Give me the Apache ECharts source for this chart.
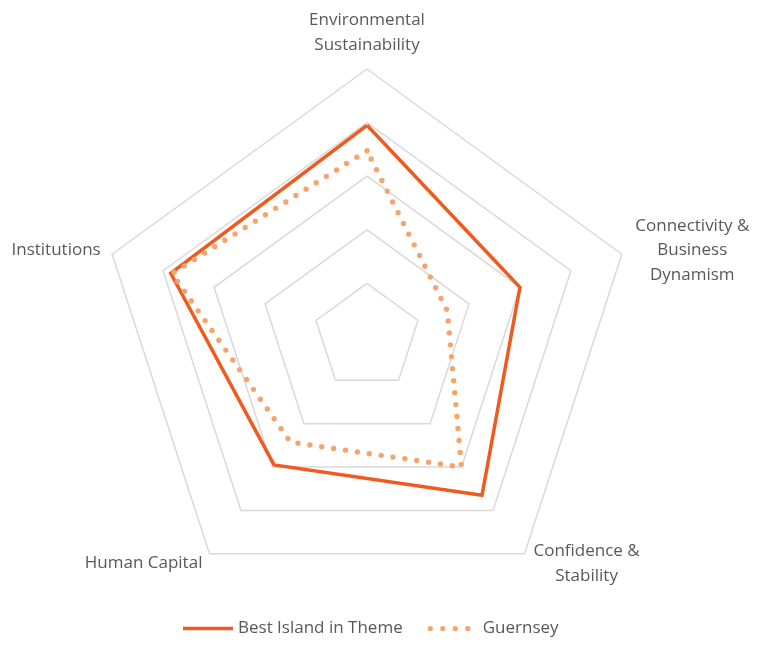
<!DOCTYPE html>
<html>
<head>
<meta charset="utf-8">
<script src="https://cdn.jsdelivr.net/npm/echarts@6/dist/echarts.min.js"></script>
<style>html,body{margin:0;padding:0;background:#fff;}#c{width:762px;height:648px;}</style>
</head>
<body>
<div id="c"></div>
<script>
// Indicators in ECharts (counter-clockwise) order, starting at the top
var indicators = ['Environmental\nSustainability', 'Institutions', 'Human Capital', 'Confidence &\nStability', 'Connectivity &\nBusiness\nDynamism'];
var bestIsland = [79, 77, 59, 73, 60];
var guernsey = [69.5, 76.5, 48.5, 60, 31.5];
var seriesNames = ['Best Island in Theme', 'Guernsey'];
var maxValue = 100;

var FONT = 'Open Sans';
var TXT = '#595959';
var FS = 17;
var chart = echarts.init(document.getElementById('c'), null, {renderer: 'canvas'});
var richBase = {color: TXT, fontSize: FS, fontFamily: FONT, lineHeight: 24.5};
chart.setOption({
  animation: false,
  backgroundColor: '#ffffff',
  radar: {
    center: [367, 337],
    radius: 268,
    startAngle: 90,
    splitNumber: 5,
    shape: 'polygon',
    nameGap: 12,
    indicator: indicators.map(function (n) { return {name: n, max: maxValue, min: 0}; }),
    axisName: {
      color: TXT, fontSize: FS, fontFamily: FONT, lineHeight: 24.5,
      formatter: function (name) {
        if (name.indexOf('Connectivity') === 0) {
          return name.split('\n').map(function (l) { return '{a|' + l + '}'; }).join('\n');
        }
        if (name.indexOf('Confidence') === 0) {
          return name.split('\n').map(function (l) { return '{b|' + l + '}'; }).join('\n');
        }
        return name;
      },
      rich: {
        a: Object.assign({width: 118, align: 'center'}, richBase),
        b: Object.assign({width: 110, align: 'center'}, richBase)
      }
    },
    axisLine: {show: false},
    axisTick: {show: false},
    axisLabel: {show: false},
    splitArea: {show: false},
    splitLine: {lineStyle: {color: '#d9d9d9', width: 1.5}}
  },
  legend: {
    left: 183,
    top: 620,
    padding: 0,
    itemWidth: 50,
    itemHeight: 14,
    itemGap: 25,
    textStyle: {color: TXT, fontSize: FS, fontFamily: FONT},
    itemStyle: {borderWidth: 0},
    data: [
      {name: seriesNames[0], icon: 'path://M0,0H50V3.5H0Z'},
      {name: seriesNames[1], icon: 'path://M0,2.6a2.6,2.6 0 1,0 5.2,0a2.6,2.6 0 1,0 -5.2,0Z M12.5,2.6a2.6,2.6 0 1,0 5.2,0a2.6,2.6 0 1,0 -5.2,0Z M25,2.6a2.6,2.6 0 1,0 5.2,0a2.6,2.6 0 1,0 -5.2,0Z M37.5,2.6a2.6,2.6 0 1,0 5.2,0a2.6,2.6 0 1,0 -5.2,0Z M50,0L50,5.2'}
    ]
  },
  series: [{
    type: 'radar',
    symbol: 'none',
    data: [
      {
        name: seriesNames[0], value: bestIsland,
        itemStyle: {color: '#F05A1E'},
        lineStyle: {color: '#F05A1E', width: 3.5, join: 'miter'}
      },
      {
        name: seriesNames[1], value: guernsey,
        itemStyle: {color: '#F5A46E'},
        lineStyle: {color: '#F5A46E', width: 5.4, type: [0, 12], cap: 'round'}
      }
    ],
    z: 2
  }]
});
</script>
</body>
</html>
